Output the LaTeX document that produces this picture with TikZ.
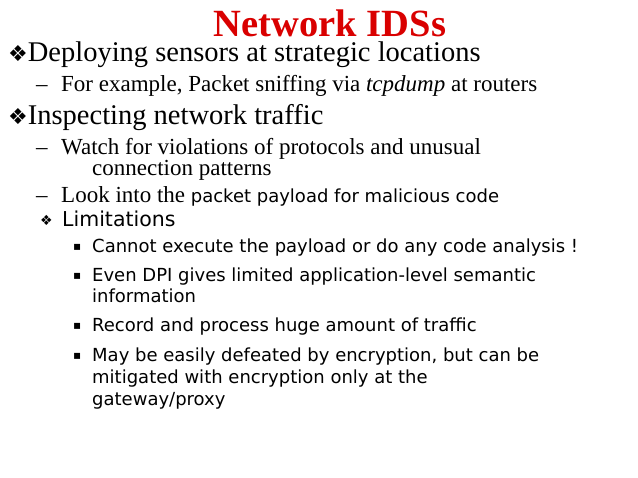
\documentclass[tikz,border=0pt]{standalone}
\usepackage{fontspec}
\setmainfont{Liberation Serif}
\newfontfamily\dv{DejaVu Sans}
\begin{document}
\begin{tikzpicture}[x=1pt,y=-1pt,
  t/.style={anchor=base west,inner sep=0pt},
  big/.style={t,font=\fontsize{28.5}{32}\selectfont},
  mid/.style={t,font=\fontsize{23}{26}\selectfont},
  cs/.style={t,font=\dv\fontsize{18}{21}\selectfont}]
\useasboundingbox (0,0) rectangle (638,478);
\node[anchor=base,inner sep=0pt,text=red!85!black,font=\bfseries\fontsize{38.5}{44}\selectfont] (title) at (330,37) {Network IDSs};
\node[big] (b1) at (8,62) {{\dv\fontsize{22}{24}\selectfont ❖}Deploying sensors at strategic locations};
\node[mid] (d1) at (36,92) {–};
\node[mid] (s1) at (61,92) {For example, Packet sniffing via \textit{tcpdump} at routers};
\node[big] (b2) at (8,125) {{\dv\fontsize{22}{24}\selectfont ❖}Inspecting network traffic};
\node[mid] (d2) at (36,155) {–};
\node[mid] (s2) at (61,155) {Watch for violations of protocols and unusual};
\node[mid] (s2b) at (92,176) {connection patterns};
\node[mid] (d3) at (36,203) {–};
\node[mid] (s3) at (61,203) {Look into the {\dv\fontsize{18}{20}\selectfont packet payload for malicious code}};
\node[cs,font=\dv\fontsize{14}{16}\selectfont] (b3s) at (40,226) {❖};
\node[cs,font=\dv\fontsize{20.5}{24}\selectfont] (b3) at (62,227) {Limitations};
\foreach \y/\txt in {253/{Cannot execute the payload or do any code analysis !},
  282/{Even DPI gives limited application-level semantic},
  303/{information},
  332/{Record and process huge amount of traffic},
  362/{May be easily defeated by encryption, but can be},
  384/{mitigated with encryption only at the},
  406/{gateway/proxy}}
  \node[cs] at (92,\y) {\txt};
\foreach \y in {253,282,332,362}
  \node[cs,font=\dv\fontsize{12}{14}\selectfont] at (73,\y-2) {▪};
\end{tikzpicture}
\end{document}
